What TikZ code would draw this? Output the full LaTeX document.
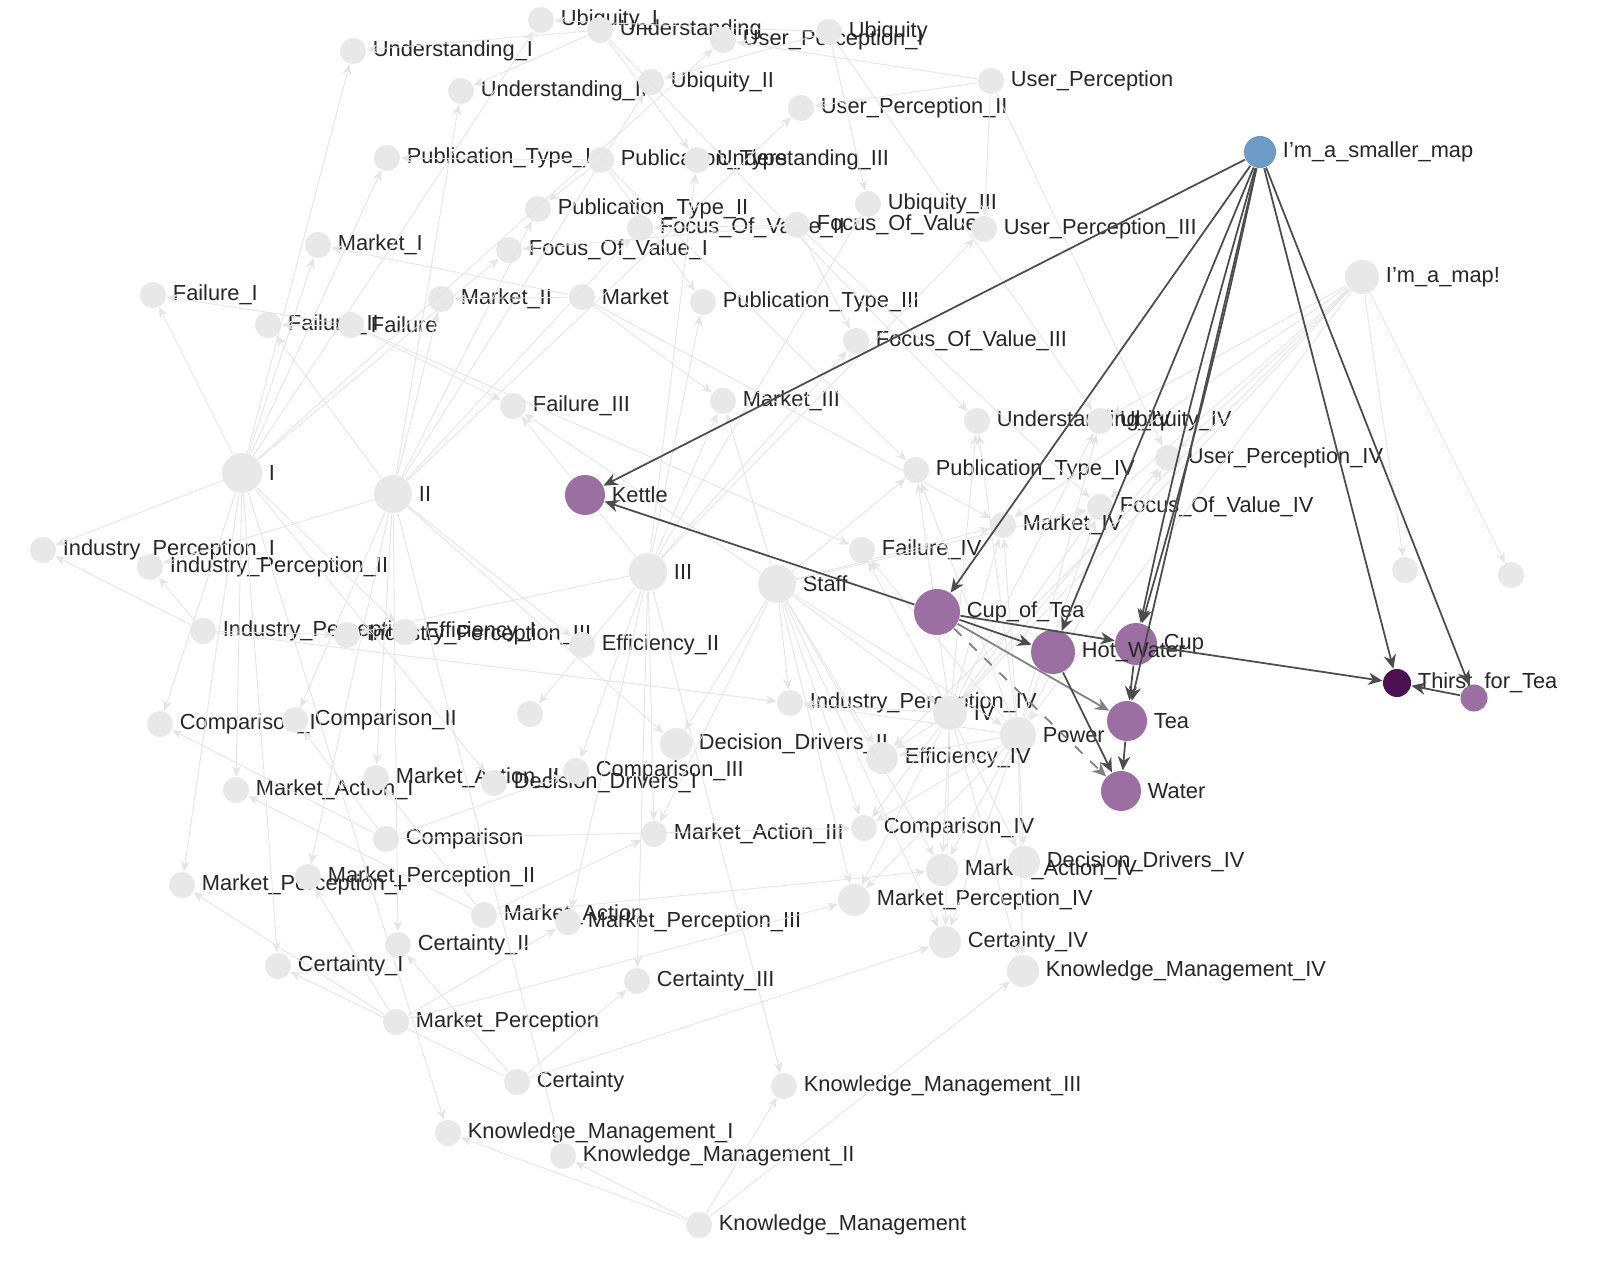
\documentclass[tikz,border=0pt]{standalone}
\usepackage{fontspec}
\setmainfont{Liberation Sans}
\usetikzlibrary{arrows.meta}
\definecolor{mauve}{HTML}{9C6FA2}
\definecolor{mblue}{HTML}{6C9CC6}
\definecolor{mdark}{HTML}{4A1050}
\newcommand\nd[5][gn]{\node[#1,label={[lb]0:#5}] (#2) at (#3,-#4) {};}
\begin{document}
\begin{tikzpicture}[x=0.01cm,y=0.01cm,
 gn/.style={circle,fill=black!9,inner sep=0pt,minimum size=0.26cm},
 pn/.style={circle,fill=mauve,inner sep=0pt,minimum size=0.40cm},
 lb/.style={font=\fontsize{6.2}{7}\selectfont,inner sep=1pt,text=black!85,label distance=0.02cm},
 le/.style={draw=black!10,line width=0.25pt,-{Stealth[length=3pt,width=2.5pt]}},
 de/.style={draw=black!70,line width=0.5pt,-{Stealth[length=4pt,width=3.5pt]}}]
\useasboundingbox (0,0) rectangle (1600,-1270);
\fill[white] (0,0) rectangle (1600,-1270);
\nd{ubi1}{541}{20}{Ubiquity\_I}
\nd{und0}{600}{30}{Understanding}
\nd{up1}{723}{40}{User\_Perception\_I}
\nd{ubi0}{829}{32}{Ubiquity}
\nd{und1}{353}{51}{Understanding\_I}
\nd{und2}{461}{91}{Understanding\_II}
\nd{ubi2}{651}{82}{Ubiquity\_II}
\nd{up2}{801}{108}{User\_Perception\_II}
\nd{up0}{991}{81}{User\_Perception}
\nd{pt1}{387}{158}{Publication\_Type\_I}
\nd{pt0}{601}{160}{Publication\_Type}
\nd{und3}{697}{160}{Understanding\_III}
\nd{ubi3}{868}{204}{Ubiquity\_III}
\nd{pt2}{538}{209}{Publication\_Type\_II}
\nd{fov2}{640}{228}{Focus\_Of\_Value\_II}
\nd{fov0}{797}{225}{Focus\_Of\_Value}
\nd{up3}{984}{229}{User\_Perception\_III}
\nd{mkt1}{318}{245}{Market\_I}
\nd{fov1}{509}{250}{Focus\_Of\_Value\_I}
\nd[gn,minimum size=0.34cm]{map}{1362}{277}{I'm\_a\_map!}
\nd{fail1}{153}{295}{Failure\_I}
\nd{fail2}{268}{325}{Failure\_II}
\nd{fail0}{351}{325}{Failure}
\nd{mkt2}{441}{299}{Market\_II}
\nd{mkt0}{582}{297}{Market}
\nd{pt3}{703}{302}{Publication\_Type\_III}
\nd{fov3}{856}{341}{Focus\_Of\_Value\_III}
\nd{fail3}{513}{406}{Failure\_III}
\nd{mkt3}{723}{401}{Market\_III}
\nd{und4}{977}{421}{Understanding\_IV}
\nd{ubi4}{1100}{421}{Ubiquity\_IV}
\nd{up4}{1168}{458}{User\_Perception\_IV}
\nd{pt4}{916}{470}{Publication\_Type\_IV}
\nd[gn,minimum size=0.40cm]{L1}{242}{473}{I}
\nd[gn,minimum size=0.38cm]{L2}{393}{494}{II}
\nd{fov4}{1100}{507}{Focus\_Of\_Value\_IV}
\nd{mkt4}{1003}{525}{Market\_IV}
\nd{ip1}{43}{550}{Industry\_Perception\_I}
\nd{ip2}{150}{567}{Industry\_Perception\_II}
\nd{fail4}{862}{550}{Failure\_IV}
\nd[gn,minimum size=0.38cm]{L3}{648}{572}{III}
\nd[gn,minimum size=0.38cm]{staff}{777}{584}{Staff}
\nd{ip0}{203}{631}{Industry\_Perception}
\nd{ip3}{347}{635}{Industry\_Perception\_III}
\nd{eff1}{405}{632}{Efficiency\_I}
\nd{eff2}{582}{645}{Efficiency\_II}
\nd{ip4}{790}{703}{Industry\_Perception\_IV}
\nd[gn,minimum size=0.34cm]{L4}{950}{713}{IV}
\nd[gn,minimum size=0.36cm]{power}{1018}{735}{Power}
\nd{cmp1}{160}{724}{Comparison\_I}
\nd{cmp2}{295}{720}{Comparison\_II}
\node[gn] (eff3) at (530,-714) {};
\nd[gn,minimum size=0.32cm]{dd2}{676}{744}{Decision\_Drivers\_II}
\nd[gn,minimum size=0.32cm]{eff4}{882}{758}{Efficiency\_IV}
\nd{ma1}{236}{790}{Market\_Action\_I}
\nd{ma2}{376}{778}{Market\_Action\_II}
\nd{dd1}{494}{783}{Decision\_Drivers\_I}
\nd{cmp3}{576}{771}{Comparison\_III}
\nd{cmp0}{386}{839}{Comparison}
\nd{ma3}{654}{834}{Market\_Action\_III}
\nd{cmp4}{864}{828}{Comparison\_IV}
\nd[gn,minimum size=0.32cm]{ma4}{942}{870}{Market\_Action\_IV}
\nd[gn,minimum size=0.32cm]{dd4}{1024}{862}{Decision\_Drivers\_IV}
\nd{mp1}{182}{885}{Market\_Perception\_I}
\nd{mp2}{308}{877}{Market\_Perception\_II}
\nd[gn,minimum size=0.32cm]{mp4}{854}{900}{Market\_Perception\_IV}
\nd{ma0}{484}{915}{Market\_Action}
\nd{mp3}{568}{922}{Market\_Perception\_III}
\nd{cert2}{398}{945}{Certainty\_II}
\nd[gn,minimum size=0.32cm]{cert4}{945}{942}{Certainty\_IV}
\nd[gn,minimum size=0.32cm]{km4}{1023}{971}{Knowledge\_Management\_IV}
\nd{cert1}{278}{966}{Certainty\_I}
\nd{cert3}{637}{981}{Certainty\_III}
\nd{mp0}{396}{1022}{Market\_Perception}
\nd{cert0}{517}{1082}{Certainty}
\nd{km3}{784}{1086}{Knowledge\_Management\_III}
\nd{km1}{448}{1133}{Knowledge\_Management\_I}
\nd{km2}{563}{1156}{Knowledge\_Management\_II}
\nd{km0}{699}{1225}{Knowledge\_Management}
\node[gn] (g1) at (1405,-570) {};
\node[gn] (g2) at (1511,-575) {};
\foreach \d in {und,ubi,up,pt,fov,mkt,fail,ip,cmp,ma,mp,cert,km}{
 \foreach \k in {1,...,4}{\draw[le] (\d0) -- (\d\k); \draw[le] (L\k) -- (\d\k);}}
\foreach \k in {1,...,4}{\draw[le] (L\k) -- (eff\k);}
\foreach \k in {1,2,4}{\draw[le] (L\k) -- (dd\k);}
\foreach \t in {fail3,mkt3,pt4,fov4,mkt4,ip4,dd2,eff4,cmp4,ma4,mp4,L4,power,ma3,cert4}{\draw[le] (staff) -- (\t);}
\foreach \t in {g1,g2,up4,fov4,mkt4,power,L4,eff4,ubi4}{\draw[le] (map) -- (\t);}
\foreach \t in {und4,ubi4,up4,pt4,fov4,mkt4,fail4,ip4,cmp4,ma4,mp4,cert4,km4,dd4,eff4}{\draw[le] (power) -- (\t);}
\nd[pn]{kettle}{585}{495}{Kettle}
\nd[pn,minimum size=0.46cm]{cot}{937}{612}{Cup\_of\_Tea}
\nd[pn,minimum size=0.42cm]{cup}{1136}{644}{Cup}
\nd[pn,minimum size=0.44cm]{hw}{1053}{652}{Hot\_Water}
\nd[pn]{tea}{1127}{721}{Tea}
\nd[pn]{water}{1121}{791}{Water}
\nd[circle,fill=mdark,inner sep=0pt,minimum size=0.28cm]{thirst}{1397}{683}{Thirst\_for\_Tea}
\node[pn,minimum size=0.27cm] (sp) at (1474,-698) {};
\nd[circle,fill=mblue,inner sep=0pt,minimum size=0.32cm]{small}{1260}{152}{I'm\_a\_smaller\_map}
\foreach \t in {kettle,cot,hw,tea,thirst,sp}{\draw[de] (small) -- (\t);}
\draw[de] (small) to[bend left=2] (cup);
\draw[de] (small) to[bend right=2] (cup);
\draw[de] (cot) -- (kettle);
\draw[de] (cot) -- (hw);
\draw[de] (cot) -- (cup);
\draw[de,dashed,draw=black!50] (cot) -- (water);
\draw[de,draw=black!50] (cot) -- (tea);
\draw[de] (hw) -- (water);
\draw[de] (cup) -- (tea);
\draw[de] (tea) -- (water);
\draw[de] (cup) -- (thirst);
\draw[de] (sp) -- (thirst);
\end{tikzpicture}
\end{document}
